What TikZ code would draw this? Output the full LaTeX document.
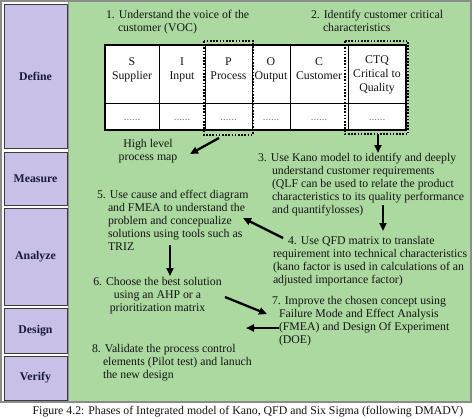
\documentclass[tikz,border=0pt]{standalone}
\usepackage{fontspec}
\setmainfont{Liberation Serif}
\usetikzlibrary{arrows.meta}
\definecolor{gfill}{RGB}{172,217,160}
\definecolor{pfill}{RGB}{200,192,230}
\definecolor{frame}{RGB}{140,140,140}
\definecolor{pborder}{RGB}{60,60,60}
\definecolor{navy}{RGB}{25,25,60}
\definecolor{txt}{RGB}{20,20,20}
\begin{document}
\begin{tikzpicture}[x=1pt,y=-1pt,
  every node/.style={inner sep=0pt, outer sep=0pt, text=txt},
  phase/.style={draw=pborder, line width=1pt, fill=pfill, font=\fontsize{11.8}{13}\selectfont\bfseries, text=navy},
  stepbox/.style={align=left, anchor=base west, font=\fontsize{11.8}{13}\selectfont},
  cstep/.style={align=center, anchor=base, font=\fontsize{11.8}{13}\selectfont},
  cell/.style={align=center, anchor=base, font=\fontsize{11.8}{13.8}\selectfont},
  dots/.style={anchor=base, font=\fontsize{11}{13}\selectfont, text=black!50},
  arr/.style={-{Triangle[length=8pt,width=7pt]}, line width=2.3pt, black},
  dotbox/.style={draw=black, line width=1.6pt, dash pattern=on 1.6pt off 1.6pt}
]
\useasboundingbox (0,0) rectangle (474,418);
\fill[white] (0,0) rectangle (474,418);
% outer frame and green area
\fill[gfill] (68,2) rectangle (470,401);
\draw[frame, line width=2pt] (1,1) rectangle (471,402);
\draw[frame, line width=0.8pt] (68,2) -- (68,401);

% phases
\node[phase, minimum width=63pt, minimum height=144pt] (define) at (35.5,76) {Define};
\node[phase, minimum width=63pt, minimum height=53pt] (measure) at (35.5,178.5) {Measure};
\node[phase, minimum width=63pt, minimum height=97pt] (analyze) at (35.5,256.5) {Analyze};
\node[phase, minimum width=63pt, minimum height=45pt] (design) at (35.5,330.5) {Design};
\node[phase, minimum width=63pt, minimum height=44pt] (verify) at (35.5,378) {Verify};

% step texts (anchor = baseline of the last line)
\node[stepbox] (s1) at (106,31) {1. Understand the voice of the\\\hspace*{12pt}customer (VOC)};
\node[stepbox] (s2) at (311,31.5) {2. Identify customer critical\\\hspace*{12pt}characteristics};

% SIPOC table
\fill[white] (105,45) rectangle (406,130);
\draw[black, line width=0.9pt] (105,103) -- (406,103);
\foreach \xx in {159,205,252,290,348} \draw[black, line width=0.9pt] (\xx,45) -- (\xx,130);
\draw[black, line width=1.7pt] (105,45) rectangle (406,130);

\node[cell] (cs) at (132,79) {S\\Supplier};
\node[cell] (ci) at (182,79) {I\\Input};
\node[cell] (cp) at (228.5,79) {P\\Process};
\node[cell] (co) at (271,79) {O\\Output};
\node[cell] (cc) at (319,79) {C\\Customer};
\node[cell] (cq) at (377,91.5) {CTQ\\Critical to\\Quality};
\node[dots] (ds) at (132,120) {......};
\node[dots] (di) at (182,120) {......};
\node[dots] (dp) at (228.5,120) {......};
\node[dots] (do) at (271,120) {......};
\node[dots] (dc) at (319,120) {......};
\node[dots] (dq) at (377,120) {......};

\draw[dotbox] (204,41) rectangle (253,135);
\draw[dotbox] (345,41) rectangle (408,134);

\node[cstep] (map) at (148,160.5) {High level\\process map};

\node[stepbox] (s3) at (258,213) {3. Use Kano model to identify and deeply\\\hspace*{14pt}understand customer requirements\\\hspace*{14pt}(QLF can be used to relate the product\\\hspace*{14pt}characteristics to its quality performance\\\hspace*{14pt}and quantifylosses)};
\node[stepbox] (s4) at (273,283) {\hspace*{15pt}4. Use QFD matrix to translate\\requirement into technical characteristics\\(kano factor is used in calculations of an\\adjusted importance factor)};
\node[stepbox] (s5) at (97,250) {5. Use cause and effect diagram\\\hspace*{11pt}and FMEA to understand the\\\hspace*{11pt}problem and concepualize\\\hspace*{11pt}solutions using tools such as\\\hspace*{11pt}TRIZ};
\node[cstep] (s6) at (157.5,311) {6. Choose the best solution\\using an AHP or a\\prioritization matrix};
\node[stepbox] (s7) at (272,343) {7. Improve the chosen concept using\\\hspace*{7pt}Failure Mode and Effect Analysis\\\hspace*{7pt}(FMEA) and Design Of Experiment\\\hspace*{7pt}(DOE)};
\node[stepbox] (s8) at (92,378) {8. Validate the process control\\\hspace*{11pt}elements (Pilot test) and lanuch\\\hspace*{11pt}the new design};

% arrow end points
\coordinate (a1s) at (219,138); \coordinate (a1e) at (190,154);
\coordinate (a2s) at (378,134); \coordinate (a2e) at (378,153);
\coordinate (a3s) at (383,205); \coordinate (a3e) at (383,231);
\coordinate (a4s) at (283,238); \coordinate (a4e) at (243,218);
\coordinate (a5s) at (170,245); \coordinate (a5e) at (170,276);
\coordinate (a6s) at (225,297); \coordinate (a6e) at (267,314);
\coordinate (a7s) at (279,328); \coordinate (a7e) at (246,328);
\draw[arr] (a1s) -- (a1e);
\draw[arr] (a2s) -- (a2e);
\draw[arr] (a3s) -- (a3e);
\draw[arr] (a4s) -- (a4e);
\draw[arr] (a5s) -- (a5e);
\draw[arr] (a6s) -- (a6e);
\draw[arr] (a7s) -- (a7e);

% caption
\node[anchor=base, font=\fontsize{11.8}{13}\selectfont] (cap) at (248,414) {Figure 4.2: Phases of Integrated model of Kano, QFD and Six Sigma (following DMADV)};
\end{tikzpicture}
\end{document}
